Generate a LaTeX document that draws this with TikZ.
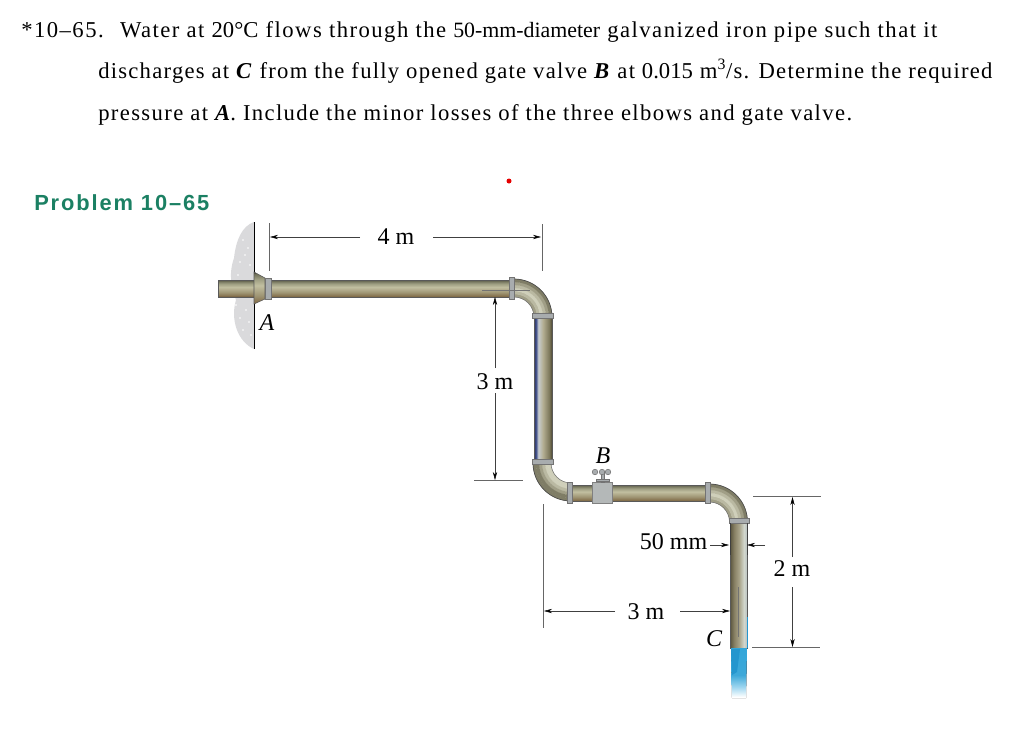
\documentclass[tikz,border=0pt]{standalone}
\usepackage{fontspec}
\setmainfont{Liberation Serif}
\newfontfamily\headfont[LetterSpace=8.6]{Liberation Sans Bold}
\newfontfamily\bodyfont{Liberation Serif}
\usetikzlibrary{calc,arrows.meta}
\definecolor{headgreen}{HTML}{1B8063}
\definecolor{wallgray}{HTML}{DADADC}
\definecolor{steel}{HTML}{A8ACAE}
\definecolor{valvegray}{HTML}{B4B8B8}
\definecolor{pipeA}{HTML}{7F7D66}
\definecolor{pipeB}{HTML}{A09E86}
\definecolor{pipeC}{HTML}{BAB9A2}
\definecolor{pipeD}{HTML}{CFCFBA}
\definecolor{waterB}{HTML}{2496CE}
\pgfdeclareverticalshading{pipeh}{100bp}{rgb(0bp)=(.25,.20,.12);rgb(25bp)=(.25,.20,.12);rgb(28bp)=(.52,.44,.30);rgb(38bp)=(.62,.58,.45);rgb(54bp)=(.76,.75,.63);rgb(64bp)=(.62,.62,.51);rgb(72bp)=(.44,.44,.35);rgb(75bp)=(.2,.2,.16);rgb(100bp)=(.2,.2,.16)}
\pgfdeclarehorizontalshading{pipeu}{100bp}{rgb(0bp)=(.15,.18,.38);rgb(25bp)=(.15,.18,.38);rgb(31bp)=(.28,.34,.56);rgb(37bp)=(.78,.80,.81);rgb(50bp)=(.70,.68,.57);rgb(68bp)=(.48,.46,.35);rgb(75bp)=(.3,.28,.2);rgb(100bp)=(.3,.28,.2)}
\pgfdeclarehorizontalshading{pipel}{100bp}{rgb(0bp)=(.35,.33,.24);rgb(25bp)=(.35,.33,.24);rgb(38bp)=(.54,.51,.40);rgb(52bp)=(.66,.64,.54);rgb(66bp)=(.82,.84,.80);rgb(73bp)=(.75,.78,.77);rgb(75bp)=(.15,.25,.38);rgb(100bp)=(.15,.25,.38)}
\pgfdeclareverticalshading{waterfall}{100bp}{rgb(0bp)=(1,1,1);rgb(26bp)=(1,1,1);rgb(36bp)=(.62,.84,.94);rgb(48bp)=(.24,.66,.85);rgb(75bp)=(.20,.65,.85);rgb(100bp)=(.20,.65,.85)}
\def\bandsout{21.5/pipeB,24.5/pipeC,27.5/pipeD,30.5/pipeC,33.5/pipeB,36.5/pipeA}
\def\bandsin{21.5/pipeD,24.5/pipeD,27.5/pipeC,30.5/pipeB,33.5/pipeA,36.5/pipeA}
\def\bend[#1](#2)(#3:#4){\foreach \r/\c in #1{\draw[line width=2.5pt, color=\c] ($(#2)+(#3:\r)$) arc (#3:#4:\r);}
	\draw[line width=0.5pt, color=black!70] ($(#2)+(#3:38)$) arc (#3:#4:38);
	\draw[line width=0.4pt, color=black!55] ($(#2)+(#3:20)$) arc (#3:#4:20);}
\tikzset{
	every node/.style={inner sep=0pt},
	bodyline/.style={anchor=base west},
	dim/.style={line width=0.35pt, color=black!75},
	dimtip/.style={dim, -{Stealth[length=6pt,width=3.2pt,color=black]}},
	ext/.style={line width=0.35pt, color=black!60},
	flange/.style={draw=black!55, line width=0.4pt, fill=steel},
	pipeedge/.style={draw=black!65, line width=0.4pt},
	figlabel/.style={font=\fontsize{18}{18}\selectfont},
	figitalic/.style={font=\fontsize{18}{18}\selectfont\itshape},
}

\begin{document}
\begin{tikzpicture}[x=0.75pt, y=0.75pt]
	\useasboundingbox (0, 0) rectangle (1017, -732);
	%%%%% START %%%%%

	\node[bodyline, font=\fontsize{17}{17}\bodyfont\addfontfeature{LetterSpace=6.5}] (line1) at (21, -37) {*10–65.\ \ \kern1.5pt Water at {\addfontfeature{LetterSpace=0}20°C} flows through the {\fontsize{16.4}{16}\selectfont\addfontfeature{LetterSpace=0}50-mm-diameter} galvanized iron pipe such that it};
	\node[bodyline, font=\fontsize{17}{17}\bodyfont\addfontfeature{LetterSpace=5.5}] (line2) at (98, -78) {discharges at \textit{\textbf{C}} from the fully opened gate valve \textit{\textbf{B}} at {\addfontfeature{LetterSpace=0}0.015} m\textsuperscript{3}/s. Determine the required};
	\node[bodyline, font=\fontsize{17}{17}\bodyfont\addfontfeature{LetterSpace=6.05}] (line3) at (98, -120) {pressure at \textit{\textbf{A}}. Include the minor losses of the three elbows and gate valve.};
	\node[bodyline, font=\fontsize{16.4}{16}\headfont, color=headgreen] (title) at (34, -210) {Problem 10–65};
	\fill[red!90!black] (509, -181) circle (2.5);

	% wall
	\fill[wallgray] (254, -222) .. controls (242, -226) and (236, -240) .. (234, -258) .. controls (228, -275) and (232, -290) .. (236, -300) .. controls (230, -320) and (238, -342) .. (254, -349) -- cycle;
	\foreach \sx/\sy in {243/240, 248/248, 240/262, 250/265, 238/275, 246/310, 240/318, 249/322, 243/330, 236/305, 251/335, 245/255}{\fill[white] (\sx, -\sy) circle (0.8);}
	\draw[line width=0.5pt] (254, -222) -- (254, -349);

	% pipe from A
	\draw[pipeedge, shading=pipeh] (218, -280) rectangle (256, -297);
	\draw[pipeedge, shading=pipeh] (254, -272) -- (265, -278) -- (265, -299) -- (254, -304) -- cycle;
	\draw[pipeedge, shading=pipeh] (271, -280) rectangle (514, -297);
	\draw[flange] (265, -278) rectangle (271, -299);
	\bend[\bandsout](514, -317)(90:0);
	\draw[flange] (509, -277) rectangle (514, -299);
	\draw[pipeedge, shading=pipeu] (534, -318) rectangle (552, -460);
	\draw[flange] (532, -313) rectangle (553, -318);

	% lower elbow and valve
	\bend[\bandsin](571, -463)(180:270);
	\draw[flange] (532, -459) rectangle (553, -464);
	\draw[pipeedge, shading=pipeh] (571, -485) rectangle (706, -501);
	\draw[flange] (567, -482) rectangle (572, -503);
	\draw[draw=black!50, line width=0.4pt, fill=valvegray] (592, -482) rectangle (612, -503);
	\draw[flange] (601, -472) rectangle (604, -482);
	\draw[flange] (596, -479) rectangle (609, -481);
	\foreach \hx in {595, 602, 608}{\draw[flange] (\hx, -472) circle (2.8);}
	\bend[\bandsout](709.5, -522)(90:0);
	\draw[flange] (705, -482) rectangle (710, -503);
	\draw[pipeedge, shading=pipel] (730, -523) rectangle (747, -648);
	\draw[flange] (729, -518) rectangle (749, -523);
	\draw[line width=0.5pt, color=black!75] (730, -523) -- (730, -555);
	\draw[line width=0.5pt, color=black!75] (747, -523) -- (747, -555);
	\draw[line width=0.7pt, color=waterB] (747, -617) -- (747, -648);

	% water
	\fill[shading=waterfall] (731, -648) -- (747, -648) -- (746, -698) -- (732, -698) -- cycle;
	\fill[waterB] (731, -649) -- (740, -649) -- (737, -672) -- (732, -675) -- cycle;

	% dimensions
	\draw[ext] (269.5, -223) -- (269.5, -271);
	\draw[ext] (542, -224) -- (542, -271);
	\node[figlabel] (lenA) at (396, -236.5) {4 m};
	\draw[dimtip] (360, -237) -- (270, -237);
	\draw[dimtip] (433, -237) -- (541, -237);

	\draw[line width=0.4pt, color=black!55] (482, -290) -- (530, -290);
	\draw[ext] (474, -480) -- (523, -480);
	\node[figlabel] (lenB) at (495, -381.5) {3 m};
	\draw[dimtip] (495, -368) -- (495, -297);
	\draw[dimtip] (495, -393) -- (495, -480);

	\draw[ext] (543, -504) -- (543, -628);
	\draw[line width=0.4pt, color=black!55] (738, -587) -- (738, -637);
	\node[figlabel] (lenC) at (646, -612) {3 m};
	\draw[dimtip] (615, -611) -- (544, -611);
	\draw[dimtip] (680, -611) -- (730, -611);

	\node[figlabel] (dia) at (673.5, -542) {50 mm};
	\draw[dimtip] (710, -545) -- (729, -545);
	\draw[dimtip] (765, -545) -- (747, -545);

	\draw[ext] (753, -496) -- (821, -496);
	\draw[ext] (752, -647.5) -- (820, -647.5);
	\node[figlabel] (lenD) at (792, -569) {2 m};
	\draw[dimtip] (792.5, -557) -- (792.5, -497);
	\draw[dimtip] (792.5, -587) -- (792.5, -647);

	\node[figitalic] (ptA) at (267, -322.5) {A};
	\node[figitalic] (ptB) at (603, -455.5) {B};
	\node[figitalic] (ptC) at (714, -638.5) {C};

	%%%%% END %%%%%
\end{tikzpicture}
\end{document}
